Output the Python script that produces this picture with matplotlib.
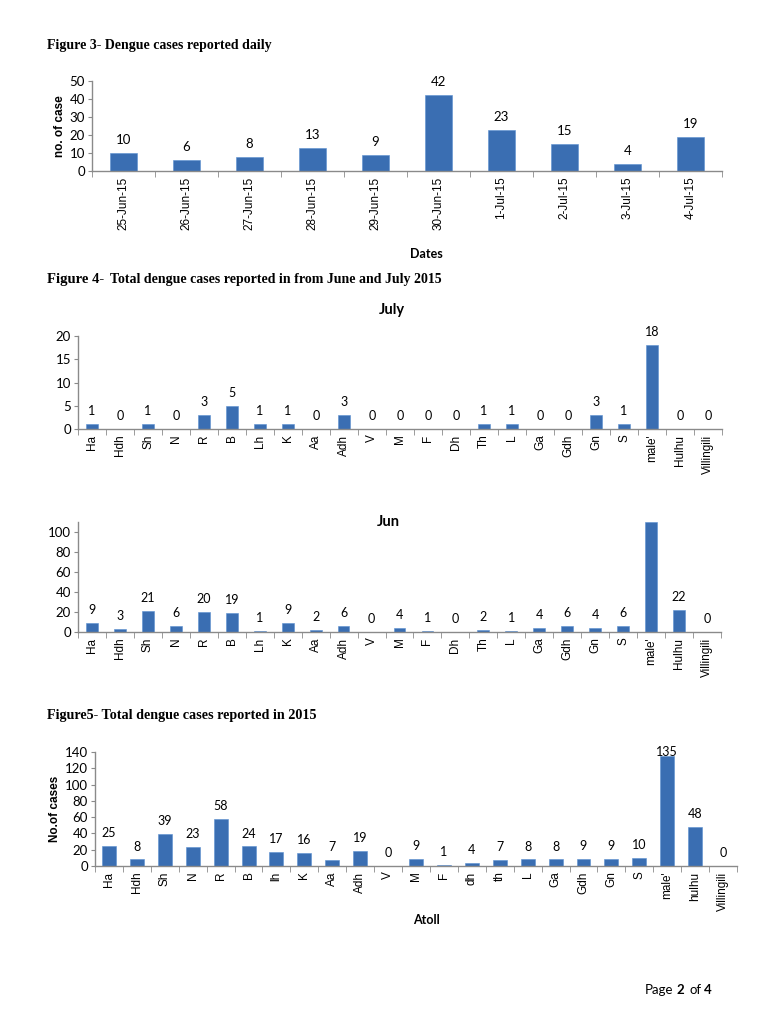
import numpy as np
import matplotlib.pyplot as plt

dates = ['25-Jun-15', '26-Jun-15', '27-Jun-15', '28-Jun-15', '29-Jun-15',
         '30-Jun-15', '1-Jul-15', '2-Jul-15', '3-Jul-15', '4-Jul-15']
daily_cases = [10, 6, 8, 13, 9, 42, 23, 15, 4, 19]

atolls = ['Ha', 'Hdh', 'Sh', 'N', 'R', 'B', 'Lh', 'K', 'Aa', 'Adh', 'V', 'M', 'F',
          'Dh', 'Th', 'L', 'Ga', 'Gdh', 'Gn', 'S', "male'", 'Hulhu', 'Villingili']
july_cases = [1, 0, 1, 0, 3, 5, 1, 1, 0, 3, 0, 0, 0, 0, 1, 1, 0, 0, 3, 1, 18, 0, 0]
jun_cases = [9, 3, 21, 6, 20, 19, 1, 9, 2, 6, 0, 4, 1, 0, 2, 1, 4, 6, 4, 6, 110, 22, 0]

atolls_2015 = ['Ha', 'Hdh', 'Sh', 'N', 'R', 'B', 'lh', 'K', 'Aa', 'Adh', 'V', 'M', 'F',
               'dh', 'th', 'L', 'Ga', 'Gdh', 'Gn', 'S', "male'", 'hulhu', 'Villingili']
cases_2015 = [25, 8, 39, 23, 58, 24, 17, 16, 7, 19, 0, 9, 1, 4, 7, 8, 8, 9, 9, 10, 135, 48, 0]

W, H = 784, 1024
BAR = '#3a6eb2'
AXC = '#8a8a8a'
SERIF = 'Liberation Serif'
NARROW = ['Lato', 'DejaVu Sans']
SANS = ['Liberation Sans', 'DejaVu Sans']

fig = plt.figure(figsize=(W / 100, H / 100), dpi=100)


def px_axes(left, right, top, bottom):
    return fig.add_axes([left / W, 1 - bottom / H, (right - left) / W, (bottom - top) / H])


def bar_chart(ax, labels, values, ymax, step, width, lab_size=9):
    n = len(labels)
    x = np.arange(n)
    ax.bar(x, values, width=width, color=BAR, edgecolor='#5b8fd0', linewidth=0.4, zorder=2)
    # labels of bars that reach the top are handled separately (or cut off)
    for xi, v in zip(x, values):
        if v < ymax * 0.95:
            ax.annotate(str(v), (xi, v), xytext=(0, 5), textcoords='offset points',
                        ha='center', va='bottom', fontsize=lab_size, family=NARROW)
    ax.set_xlim(-0.5, n - 0.5)
    ax.set_ylim(0, ymax)
    ax.set_yticks(np.arange(0, ymax + 1, step))
    ax.set_xticks(x)
    ax.set_xticklabels(labels, rotation=90, fontsize=8.5, family=SANS)
    ax.set_xticks(np.arange(-0.5, n, 1), minor=True)
    ax.tick_params(axis='x', which='major', length=0, pad=4)
    ax.tick_params(axis='x', which='minor', length=4, color=AXC, direction='out')
    ax.tick_params(axis='y', length=3, color=AXC, direction='out', labelsize=9.5, pad=2)
    for t in ax.get_yticklabels():
        t.set_family(NARROW)
    for s in ['top', 'right']:
        ax.spines[s].set_visible(False)
    for s in ['left', 'bottom']:
        ax.spines[s].set_color(AXC)
        ax.spines[s].set_linewidth(1.0)


# Figure 3
fig.text(47 / W, 1 - 45 / H, 'Figure 3- Dengue cases reported daily', family=SERIF,
         weight='bold', fontsize=10, va='center')
ax1 = px_axes(92, 722, 81, 171)
bar_chart(ax1, dates, daily_cases, 50, 10, 0.42, lab_size=9.5)
ax1.set_ylabel('no. of case', fontsize=8.5, weight='bold', family=SANS, labelpad=3)
fig.text(426 / W, 1 - 254 / H, 'Dates', fontsize=9, weight='bold', family=NARROW,
         ha='center', va='center')

# Figure 4
fig.text(47 / W, 1 - 280 / H, 'Figure 4-', family=SERIF, weight='bold', fontsize=10.5,
         va='center')
fig.text(110 / W, 1 - 280 / H, 'Total dengue cases reported in from June and July 2015',
         family=SERIF, weight='bold', fontsize=10, va='center')

ax2 = px_axes(78, 722, 336, 429)
bar_chart(ax2, atolls, july_cases, 20, 5, 0.42)
fig.text(392 / W, 1 - 310 / H, 'July', fontsize=10.5, weight='bold', family=NARROW,
         ha='center', va='center')

ax3 = px_axes(78, 721, 522, 632)
bar_chart(ax3, atolls, jun_cases, 110, 20, 0.42)
fig.text(388 / W, 1 - 522 / H, 'Jun', fontsize=10.5, weight='bold', family=NARROW,
         ha='center', va='center')

# Figure 5
fig.text(47 / W, 1 - 716 / H, 'Figure5- Total dengue cases reported in 2015', family=SERIF,
         weight='bold', fontsize=10.2, va='center')
ax4 = px_axes(95, 737, 752, 866)
bar_chart(ax4, atolls_2015, cases_2015, 140, 20, 0.5)
ax4.annotate(str(cases_2015[20]), (20, 140), xytext=(0, 0), textcoords='offset points',
             ha='center', va='center', fontsize=9, family=NARROW)
ax4.set_ylabel('No.of cases', fontsize=8.5, weight='bold', family=SANS, labelpad=3)
fig.text(426 / W, 1 - 920 / H, 'Atoll', fontsize=9, weight='bold', family=NARROW,
         ha='center', va='center')

fig.text(645 / W, 1 - 990 / H, 'Page', fontsize=9.5, family=NARROW, va='center')
fig.text(676 / W, 1 - 990 / H, '2', fontsize=9.5, family=NARROW, weight='bold', va='center')
fig.text(689 / W, 1 - 990 / H, 'of', fontsize=9.5, family=NARROW, va='center')
fig.text(704 / W, 1 - 990 / H, '4', fontsize=9.5, family=NARROW, weight='bold', va='center')

fig.savefig('out.png', dpi=100)
